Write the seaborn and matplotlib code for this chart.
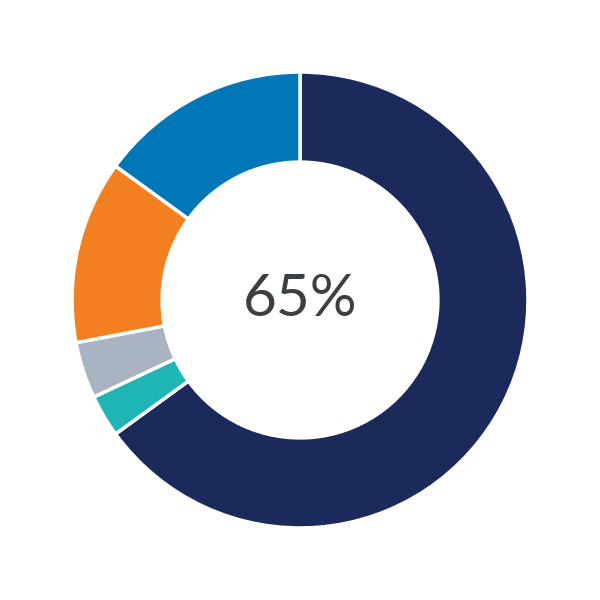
import matplotlib
matplotlib.use("Agg")
import matplotlib.pyplot as plt
import seaborn as sns

# Donut slices, clockwise from 12 o'clock
labels = ["Navy", "Teal", "Gray", "Orange", "Blue"]
shares = [65, 3, 4, 13, 15]
colors = ["#1b2a5b", "#1fb5b5", "#a9b3c2", "#f47f20", "#0277b8"]
center_text = "65%"

sns.set_theme(style="white")
plt.rcParams["font.family"] = ["Lato", "DejaVu Sans"]

fig = plt.figure(figsize=(6, 6), dpi=100)
ax = fig.add_axes([0, 0, 1, 1])
ax.pie(
    shares,
    colors=colors,
    startangle=90,
    counterclock=False,
    radius=1.0,
    wedgeprops=dict(width=0.395, edgecolor="white", linewidth=2.5),
)
ax.text(0, 0, center_text, ha="center", va="center", fontsize=42, color="#3b4045")
ax.set_xlim(-1.316, 1.316)
ax.set_ylim(-1.316, 1.316)
ax.set_aspect("equal")
ax.axis("off")

fig.savefig("out.png", dpi=100, facecolor="white")
